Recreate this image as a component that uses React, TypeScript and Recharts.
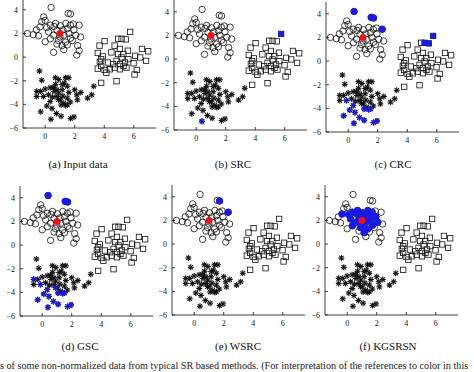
import React from 'react';
import { Scatter, ScatterChart, XAxis, YAxis } from 'recharts';

// shared data set (same in every panel)
const circles: number[][] = [
  [-1.2, 2.0], [0.4, 4.2], [1.56, 3.7], [1.72, 3.65], [-0.1, 3.4], [0, 3.1], [-0.23, 3.0], [-0.6, 2.3],
  [-0.8, 1.9], [-0.45, 1.8], [0, 1.3], [-0.35, 2.55], [0.35, 2.7], [0.7, 2.85], [1.03, 2.65], [1.4, 2.85],
  [1.7, 2.7], [2.3, 2.7], [1.95, 2.3], [2.4, 1.7], [2.07, 1.85], [1.6, 2.0], [1.26, 1.85], [0.57, 1.85],
  [0.35, 1.55], [0.9, 1.4], [1.38, 1.27], [1.15, 0.97], [1.5, 1.03], [1.26, 0.63], [0.57, 0.4], [2.2, 0.97],
  [2.3, 0.54], [2.14, 0.17], [1.84, 1.4], [0.8, 2.27], [0.23, 2.13], [1.72, 1.6], [1.5, 2.4], [1.2, 2.3],
  [0.6, 2.6], [1.9, 2.8], [0.1, 2.5], [1.0, 1.7], [0.8, 1.1],
];

const squares: number[][] = [
  [5.75, 2.13], [4.94, 1.55], [5.17, 1.55], [5.45, 1.5], [4.02, 1.35], [3.68, 0.97], [4.7, 0.97], [5.06, 0.69],
  [5.6, 0.54], [6.55, 0.69], [6.97, 0.49], [3.56, 0.35], [4.48, 0.4], [5.29, 0.26], [6.09, 0.11], [6.43, -0.03],
  [6.83, -0.32], [3.79, -0.17], [4.25, -0.46], [4.83, -0.32], [5.06, -0.6], [5.4, -0.46], [5.98, -0.52],
  [3.79, -0.75], [3.56, -0.98], [4.02, -1.09], [4.37, -1.03], [4.7, -0.89], [5.06, -1.03], [5.5, -0.89],
  [6.2, -1.09], [6.05, -1.47], [3.79, -2.18], [4.83, -2.04], [5.17, -0.03], [3.9, 0.06], [4.94, 0.26],
  [4.14, -1.32], [5.63, -0.17], [4.6, -0.6], [3.7, -0.4], [5.3, -0.75],
];

const stars: number[][] = [
  [-0.39, -1.18], [-0.23, -1.96], [0.69, -1.75], [0.92, -1.9], [1.38, -1.75], [1.6, -1.75], [-0.57, -2.9],
  [0, -2.7], [0.34, -2.6], [0.57, -2.56], [0.8, -2.76], [1.15, -2.33], [1.5, -2.47], [2.0, -2.76], [3.29, -2.47],
  [-0.12, -3.33], [0.23, -3.19], [0.8, -3.33], [1.03, -3.62], [1.5, -3.47], [2.14, -3.19], [2.18, -3.62],
  [2.87, -3.47], [3.15, -3.19], [2.41, -2.99], [-0.57, -3.33], [0.34, -3.76], [1.08, -4.05], [1.5, -4.05],
  [0.11, -4.14], [-0.3, -4.63], [0.46, -4.34], [0.76, -4.77], [1.08, -5.0], [0.39, -5.26], [1.72, -5.2],
  [1.95, -5.06], [1.26, -3.9], [0.92, -3.05], [1.15, -2.76], [0.6, -2.9], [1.2, -3.3], [1.6, -3.0],
  [1.3, -2.2], [0.5, -3.4], [-0.3, -2.9], [1.7, -3.8], [1.4, -4.1], [0.7, -2.3], [0.9, -3.6],
];

const redPoint: number[][] = [[1.0, 2.0]];

// highlighted (blue) points per method
const srcSquares: number[][] = [[5.75, 2.13]];
const srcStars: number[][] = [[0.39, -5.26]];

const crcCircles: number[][] = [[0.4, 4.2], [1.56, 3.7], [1.72, 3.65], [2.3, 2.7]];
const crcSquares: number[][] = [[5.17, 1.55], [5.45, 1.5], [5.75, 2.13]];
const crcStars: number[][] = [
  [-0.12, -3.33], [0.34, -3.76], [0.11, -4.14], [-0.3, -4.63], [0.46, -4.34], [0.76, -4.77], [1.08, -5.0],
  [0.39, -5.26], [1.72, -5.2], [1.95, -5.06], [1.08, -4.05], [1.5, -4.05], [1.4, -4.1],
];

const gscCircles: number[][] = [[0.4, 4.2], [1.56, 3.7], [1.72, 3.65]];
const gscStars: number[][] = [
  [-0.57, -2.9], [-0.12, -3.33], [0.34, -3.76], [0.11, -4.14], [-0.3, -4.63], [0.46, -4.34], [0.76, -4.77],
  [1.08, -4.05], [1.4, -4.1], [1.5, -4.05], [1.08, -5.0], [0.39, -5.26], [1.72, -5.2], [1.95, -5.06], [0.9, -3.6],
];

const wsrcCircles: number[][] = [[1.72, 3.65], [2.3, 2.7]];

const kgsrsnCircles: number[][] = [
  [0.35, 2.7], [0.7, 2.85], [1.03, 2.65], [1.4, 2.85], [1.7, 2.7], [1.95, 2.3], [1.6, 2.0], [1.26, 1.85],
  [0.57, 1.85], [0.35, 1.55], [0.9, 1.4], [1.38, 1.27], [1.15, 0.97], [0.8, 2.27], [0.23, 2.13], [1.72, 1.6],
  [1.5, 2.4], [1.2, 2.3], [0.6, 2.6], [1.0, 1.7], [2.07, 1.85], [0.1, 2.5], [-0.35, 2.55],
];

const xTicks = [0, 2, 4, 6];
const yTicks = [-6, -4, -2, 0, 2, 4];

const W = 133;
const H = 130;
const YW = 22;
const XH = 18;
const MT = 5;
const MR = 4;

const pts = (arr: number[][]) => arr.map(([x, y]) => ({ x, y }));
const fmt = (v: number) => String(v).replace('-', '\u2212');

const openCircle = (p: any) => <circle cx={p.cx} cy={p.cy} r={3.2} fill="none" stroke="#111" strokeWidth={0.8} />;
const openSquare = (p: any) => (
  <rect x={p.cx - 2.7} y={p.cy - 2.7} width={5.4} height={5.4} fill="none" stroke="#111" strokeWidth={0.8} />
);
const asterisk = (color: string) => (p: any) => {
  const r = 3;
  const d = r * 0.72;
  return (
    <g stroke={color} strokeWidth={1.1}>
      <line x1={p.cx - r} y1={p.cy} x2={p.cx + r} y2={p.cy} />
      <line x1={p.cx} y1={p.cy - r} x2={p.cx} y2={p.cy + r} />
      <line x1={p.cx - d} y1={p.cy - d} x2={p.cx + d} y2={p.cy + d} />
      <line x1={p.cx - d} y1={p.cy + d} x2={p.cx + d} y2={p.cy - d} />
    </g>
  );
};
const filledCircle = (color: string, r: number) => (p: any) => <circle cx={p.cx} cy={p.cy} r={r} fill={color} />;
const filledSquare = (color: string) => (p: any) => (
  <rect x={p.cx - 2.8} y={p.cy - 2.8} width={5.6} height={5.6} fill={color} />
);

const BLUE = '#1a1ae6';

function Panel({
  left,
  top,
  label,
  labelX,
  labelY,
  hiCircles = [],
  hiSquares = [],
  hiStars = [],
}: {
  left: number;
  top: number;
  label: string;
  labelX: number;
  labelY: number;
  hiCircles?: number[][];
  hiSquares?: number[][];
  hiStars?: number[][];
}) {
  const tickStyle = { fontSize: 8, fill: '#111', fontFamily: '"Liberation Serif", serif' };
  return (
    <>
      <div style={{ position: 'absolute', left: left - YW, top: top - MT }}>
        <ScatterChart width={YW + W + MR} height={MT + H + XH} margin={{ top: MT, right: MR, bottom: 0, left: 0 }}>
          <XAxis
            type="number"
            dataKey="x"
            domain={[-1.5, 7.5]}
            ticks={xTicks}
            tickFormatter={fmt}
            height={XH}
            tickSize={-3}
            tickMargin={8}
            tick={tickStyle}
            axisLine={{ stroke: '#111', strokeWidth: 0.8 }}
            tickLine={{ stroke: '#111', strokeWidth: 0.8 }}
          />
          <YAxis
            type="number"
            dataKey="y"
            domain={[-6, 5]}
            ticks={yTicks}
            tickFormatter={fmt}
            width={YW}
            tickSize={-3}
            tickMargin={8}
            tick={tickStyle}
            axisLine={{ stroke: '#111', strokeWidth: 0.8 }}
            tickLine={{ stroke: '#111', strokeWidth: 0.8 }}
          />
          <Scatter data={pts(squares)} shape={openSquare} isAnimationActive={false} />
          <Scatter data={pts(circles)} shape={openCircle} isAnimationActive={false} />
          <Scatter data={pts(stars)} shape={asterisk('#111')} isAnimationActive={false} />
          <Scatter data={pts(hiSquares)} shape={filledSquare(BLUE)} isAnimationActive={false} />
          <Scatter data={pts(hiCircles)} shape={filledCircle(BLUE, 3.5)} isAnimationActive={false} />
          <Scatter data={pts(hiStars)} shape={asterisk(BLUE)} isAnimationActive={false} />
          <Scatter data={pts(redPoint)} shape={filledCircle('#ee1111', 3.5)} isAnimationActive={false} />
        </ScatterChart>
      </div>
      <div
        style={{
          position: 'absolute',
          left: labelX,
          top: labelY,
          transform: 'translate(-50%, -50%)',
          fontFamily: '"Liberation Serif", serif',
          fontSize: 11,
          whiteSpace: 'nowrap',
          color: '#111',
        }}
      >
        {label}
      </div>
    </>
  );
}

export default function App() {
  return (
    <div
      style={{
        position: 'fixed',
        left: 0,
        top: 0,
        width: 474,
        height: 372,
        overflow: 'hidden',
        background: '#fff',
      }}
    >
      <Panel left={23} top={-2} label="(a) Input data" labelX={78} labelY={164} />
      <Panel left={174} top={0} label="(b) SRC" labelX={233} labelY={164} hiSquares={srcSquares} hiStars={srcStars} />
      <Panel
        left={326}
        top={2}
        label="(c) CRC"
        labelX={393}
        labelY={164}
        hiCircles={crcCircles}
        hiSquares={crcSquares}
        hiStars={crcStars}
      />
      <Panel left={20} top={186} label="(d) GSC" labelX={80} labelY={346} hiCircles={gscCircles} hiStars={gscStars} />
      <Panel left={172} top={185} label="(e) WSRC" labelX={238} labelY={346} hiCircles={wsrcCircles} />
      <Panel left={325} top={185} label="(f) KGSRSN" labelX={388} labelY={346} hiCircles={kgsrsnCircles} />
      <div
        style={{
          position: 'absolute',
          left: 0,
          top: 360,
          lineHeight: '11px',
          fontFamily: '"Liberation Serif", serif',
          fontSize: 10.2,
          whiteSpace: 'nowrap',
          color: '#222',
        }}
      >
        s of some non-normalized data from typical SR based methods. (For interpretation of the references to color in
        this
      </div>
    </div>
  );
}
